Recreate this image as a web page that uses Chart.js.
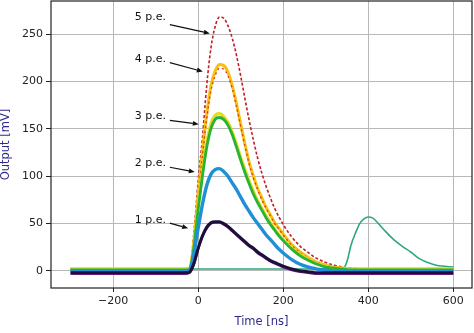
<!DOCTYPE html>
<html lang="en">
<head>
    <meta charset="UTF-8">
    <title>Output vs Time</title>
    <script src="https://cdn.jsdelivr.net/npm/chart.js"></script>
    <style>
        body {
            margin: 0;
            background: #ffffff;
            font-family: "DejaVu Sans", sans-serif;
        }
        canvas {
            display: block;
        }
    </style>
</head>
<body>
    <canvas id="peChart" width="474" height="333"></canvas>

    <script>
        // sampling times [ns] shared by the main pulses
        const times = [-300, -250, -200, -150, -100, -50, -30,
            -20, -10, 0, 10, 20, 30, 40, 50, 60, 70, 80, 90, 100, 110, 120, 130, 140, 150, 160, 170, 180, 190, 200,
            220, 240, 260, 280, 300, 320, 340, 360,
            400, 450, 500, 550, 600];

        // output [mV]
        const pe1 = [-2, -2, -2, -2, -2, -2, -2,
            -1, 8, 24, 37, 46, 51, 52, 52, 50, 47, 43, 39, 35, 31, 27, 24, 20, 17, 14, 11, 9, 7, 5,
            2, 0, -1, -2, -2, -2, -2, -2,
            -2, -2, -2, -2, -2];
        const pe1b = [-3, -3, -3, -3, -3, -3, -3,
            -2, 7, 23, 36, 45, 50, 51, 51, 49, 46, 42, 38, 34, 30, 26, 23, 19, 16, 13, 10, 8, 6, 4,
            1, -1, -2, -3, -3, -3, -3, -3,
            -3, -3, -3, -3, -3];
        const pe2 = [0, 0, 0, 0, 0, 0, 0,
            1, 18, 45, 70, 90, 102, 107, 108, 105, 100, 93, 86, 78, 70, 63, 56, 50, 44, 38, 33, 28, 23, 19,
            12, 7, 4, 2, 1, 0, 0, 0,
            0, 0, 0, 0, 0];
        const pe3 = [1, 1, 1, 1, 1, 1, 1,
            2, 25, 65, 100, 130, 150, 160, 162, 160, 154, 144, 131, 117, 104, 92, 81, 72, 64, 56, 49, 43, 37, 32,
            23, 16, 11, 7, 4, 3, 2, 1,
            1, 1, 1, 1, 1];
        const pe3b = [2, 2, 2, 2, 2, 2, 2,
            3, 27, 68, 104, 134, 155, 164, 166, 163, 157, 147, 134, 120, 107, 95, 84, 74, 66, 58, 51, 44, 38, 33,
            24, 17, 12, 8, 5, 3, 2, 2,
            2, 2, 2, 2, 2];
        const pe4 = [2, 2, 2, 2, 2, 2, 2,
            3, 30, 80, 125, 165, 195, 211, 218, 217, 210, 196, 177, 155, 134, 115, 100, 87, 77, 67, 59, 51, 45, 39,
            28, 20, 14, 9, 6, 4, 3, 2,
            2, 2, 2, 2, 2];
        const pe4b = [2, 2, 2, 2, 2, 2, 2,
            3, 28, 77, 121, 160, 190, 206, 214, 213, 206, 193, 174, 153, 132, 113, 98, 86, 75, 66, 58, 50, 44, 38,
            27, 19, 13, 9, 6, 4, 3, 2,
            2, 2, 2, 2, 2];
        const pe5 = [2, 2, 2, 2, 2, 2, 2,
            3, 40, 95, 140, 195, 235, 258, 268, 267, 259, 246, 228, 206, 182, 159, 138, 119, 103, 89, 77, 66, 57, 49,
            36, 26, 19, 13, 9, 6, 4, 3,
            2, 2, 2, 2, 2];

        // delayed pulse trace
        const lateTimes = [-300, -200, -100, 0, 100, 200, 300, 340, 350, 360, 370, 380, 390, 400, 410, 420,
            440, 460, 480, 500, 520, 540, 560, 580, 600];
        const lateOut = [2, 2, 2, 2, 2, 2, 2, 2, 10, 28, 40, 50, 55, 57, 56, 52,
            42, 33, 26, 20, 13, 9, 6, 5, 4];

        const xTicks = [-200, 0, 200, 400, 600];
        const yTicks = [0, 50, 100, 150, 200, 250];
        const peLabels = ['1 p.e.', '2 p.e.', '3 p.e.', '4 p.e.', '5 p.e.'];

        function pts(xs, ys) {
            return xs.map((x, i) => ({ x: x, y: ys[i] }));
        }

        function minus(v) {
            return String(v).replace('-', '\u2212');
        }

        // text + arrow annotations (data coordinates)
        const arrowPlugin = {
            id: 'peArrows',
            afterDatasetsDraw(chart) {
                const ctx = chart.ctx;
                const xs = chart.scales.x, ys = chart.scales.y;
                const textY = [53.7, 113.7, 163, 224, 268.4];
                const tailY = [50.5, 109.5, 159, 220, 260];
                const tips = [[-23.5, 45], [-7.8, 104.5], [1.6, 155], [11, 210.5], [27.5, 250.8]];
                ctx.save();
                ctx.font = '11px "DejaVu Sans"';
                ctx.fillStyle = '#111';
                ctx.strokeStyle = '#111';
                ctx.textBaseline = 'middle';
                ctx.textAlign = 'left';
                peLabels.forEach((lab, i) => {
                    ctx.fillText(lab, xs.getPixelForValue(-149), ys.getPixelForValue(textY[i]));
                    const x0 = xs.getPixelForValue(-66.6), y0 = ys.getPixelForValue(tailY[i]);
                    const x1 = xs.getPixelForValue(tips[i][0]), y1 = ys.getPixelForValue(tips[i][1]);
                    const a = Math.atan2(y1 - y0, x1 - x0);
                    const hl = 6, hw = 2.5;
                    const bx = x1 - hl * Math.cos(a), by = y1 - hl * Math.sin(a);
                    ctx.lineWidth = 1.2;
                    ctx.beginPath();
                    ctx.moveTo(x0, y0);
                    ctx.lineTo(bx, by);
                    ctx.stroke();
                    ctx.beginPath();
                    ctx.moveTo(x1, y1);
                    ctx.lineTo(bx + hw * Math.sin(a), by - hw * Math.cos(a));
                    ctx.lineTo(bx - hw * Math.sin(a), by + hw * Math.cos(a));
                    ctx.closePath();
                    ctx.fill();
                });
                ctx.restore();
            },
            afterDraw(chart) {
                const a = chart.chartArea;
                const ctx = chart.ctx;
                ctx.save();
                ctx.strokeStyle = '#222';
                ctx.lineWidth = 1.2;
                ctx.strokeRect(a.left, a.top, a.right - a.left, a.bottom - a.top);
                ctx.restore();
            }
        };

        function trace(data, color, width, dash) {
            return {
                data: data,
                borderColor: color,
                backgroundColor: color,
                borderWidth: width,
                borderDash: dash || [],
                pointRadius: 0,
                cubicInterpolationMode: 'monotone',
                fill: false
            };
        }

        const ctx = document.getElementById('peChart').getContext('2d');
        const chart = new Chart(ctx, {
            type: 'line',
            data: {
                datasets: [
                    trace(pts(times, pe1), '#1c0f3a', 3),
                    trace(pts(times, pe1b), '#7a1f9a', 2.4),
                    trace(pts(times, pe2), '#1f8fd6', 3.4),
                    trace(pts(times, pe3), '#28b432', 2.8),
                    trace(pts(times, pe3b), '#e2dc20', 3.2),
                    trace(pts(times, pe4b), '#d9381c', 1.3, [2, 3]),
                    trace(pts(times, pe4), '#f6bf10', 3),
                    trace(pts(lateTimes, lateOut), '#2ea87a', 1.6),
                    trace(pts(times, pe5), '#c41e24', 1.6, [3, 2])
                ]
            },
            options: {
                responsive: false,
                animation: false,
                devicePixelRatio: 1,
                layout: { padding: { top: 1, right: 2, left: 0, bottom: 0 } },
                plugins: {
                    legend: { display: false },
                    tooltip: { enabled: false }
                },
                scales: {
                    x: {
                        type: 'linear',
                        min: -346,
                        max: 644,
                        afterBuildTicks: s => { s.ticks = xTicks.map(v => ({ value: v })); },
                        afterFit: s => { s.height = 45; },
                        grid: { color: '#b8b8b8', lineWidth: 1, tickLength: 4, tickColor: '#222', drawTicks: true },
                        border: { display: false },
                        ticks: {
                            color: '#222',
                            padding: 3,
                            maxRotation: 0,
                            font: { family: 'DejaVu Sans', size: 11 },
                            callback: v => minus(v)
                        },
                        title: {
                            display: true,
                            text: 'Time [ns]',
                            color: '#2e2a8c',
                            font: { family: 'DejaVu Sans', size: 11.5, lineHeight: 1.2 },
                            padding: { top: 4, bottom: 4 }
                        }
                    },
                    y: {
                        type: 'linear',
                        min: -18,
                        max: 285,
                        afterBuildTicks: s => { s.ticks = yTicks.map(v => ({ value: v })); },
                        afterFit: s => { s.width = 51; s.paddingTop = 0; s.paddingBottom = 0; },
                        grid: { color: '#b8b8b8', lineWidth: 1, tickLength: 5, tickColor: '#222', drawTicks: true },
                        border: { display: false },
                        ticks: {
                            color: '#222',
                            padding: 3,
                            font: { family: 'DejaVu Sans', size: 11 },
                            callback: v => minus(v)
                        },
                        title: {
                            display: true,
                            text: 'Output [mV]',
                            color: '#2e2a8c',
                            font: { family: 'DejaVu Sans', size: 11.5, lineHeight: 1.0 },
                            padding: { top: 0, bottom: 0 }
                        }
                    }
                }
            },
            plugins: [arrowPlugin]
        });
    </script>
</body>
</html>
